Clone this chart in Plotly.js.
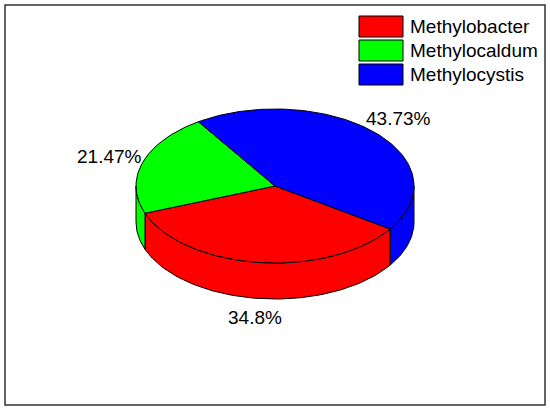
<!DOCTYPE html>
<html>
<head>
<meta charset="utf-8">
<script src="https://cdn.plot.ly/plotly-3.0.1.min.js"></script>
<style>html,body{margin:0;padding:0;background:#fff;}#chart{width:550px;height:411px;}</style>
</head>
<body>
<div id="chart"></div>
<script>
// ---- data ----
const categories = ['Methylobacter', 'Methylocaldum', 'Methylocystis'];
const values = [34.8, 21.47, 43.73];
const pctLabels = ['34.8%', '21.47%', '43.73%'];
const colors = ['#FF0000', '#00FF00', '#0000FF'];

// ---- geometry (pseudo-3D pie projection) ----
const W = 550, H = 411;
const cx = 275, cy = 186, rx = 139, ry = 77, depth = 36;
const startDeg = 34; // screen-clockwise from east
const FONT = 'Liberation Sans, Arial, sans-serif';

function pt(deg, dy) {
  const t = deg * Math.PI / 180;
  return [cx + rx * Math.cos(t), cy + ry * Math.sin(t) + (dy || 0)];
}
function arc(a, b, dy) {
  const n = Math.max(2, Math.ceil(Math.abs(b - a) / 1.5));
  const out = [];
  for (let i = 0; i <= n; i++) out.push(pt(a + (b - a) * i / n, dy));
  return out;
}

const total = values.reduce((s, v) => s + v, 0);
const slices = [];
let acc = startDeg;
values.forEach((v, i) => {
  const span = v / total * 360;
  slices.push({ a: acc, b: acc + span, i });
  acc += span;
});

const sideTraces = [], topTraces = [];
slices.forEach(s => {
  // visible front side: angles within [0,180] (mod 360)
  [[0, 180], [360, 540]].forEach(([lo, hi]) => {
    const a = Math.max(s.a, lo), b = Math.min(s.b, hi);
    if (b > a) {
      const pts = arc(a, b, 0).concat(arc(b, a, depth));
      pts.push(pts[0]);
      sideTraces.push({
        type: 'scatter', mode: 'lines', fill: 'toself',
        x: pts.map(p => p[0]), y: pts.map(p => p[1]),
        fillcolor: colors[s.i], line: { color: '#000', width: 1 },
        hoverinfo: 'skip', showlegend: false
      });
    }
  });
  const pts = [[cx, cy]].concat(arc(s.a, s.b, 0));
  pts.push([cx, cy]);
  topTraces.push({
    type: 'scatter', mode: 'lines', fill: 'toself',
    x: pts.map(p => p[0]), y: pts.map(p => p[1]),
    fillcolor: colors[s.i], line: { color: '#000', width: 1 },
    hoverinfo: 'skip', showlegend: false
  });
});

// percentage labels
const annotations = slices.map(s => {
  const m = (s.a + s.b) / 2 * Math.PI / 180;
  const sn = Math.sin(m);
  return {
    x: cx + 1.25 * rx * Math.cos(m),
    y: cy + 1.25 * ry * sn + (sn > 0 ? depth : 0),
    xref: 'x', yref: 'y', text: pctLabels[s.i], showarrow: false,
    xanchor: 'center', yanchor: 'middle',
    font: { family: FONT, size: 19, color: '#000' }
  };
});

// legend (custom swatches)
const shapes = [{
  type: 'rect', xref: 'x', yref: 'y', x0: 5, x1: 545, y0: 5, y1: 405,
  line: { color: '#333', width: 1.5 }, fillcolor: 'rgba(0,0,0,0)'
}];
const legX = 359, legW = 44, legTop = 16, legH = 21, legStep = 24;
categories.forEach((c, i) => {
  shapes.push({
    type: 'rect', xref: 'x', yref: 'y',
    x0: legX, x1: legX + legW, y0: legTop + i * legStep, y1: legTop + i * legStep + legH,
    fillcolor: colors[i], line: { color: '#000', width: 1 }
  });
  annotations.push({
    x: legX + legW + 5, y: legTop + i * legStep + legH / 2,
    xref: 'x', yref: 'y', text: c, showarrow: false,
    xanchor: 'left', yanchor: 'middle',
    font: { family: FONT, size: 19, color: '#000' }
  });
});

const layout = {
  width: W, height: H,
  margin: { l: 0, r: 0, t: 0, b: 0 },
  paper_bgcolor: '#fff', plot_bgcolor: '#fff',
  xaxis: { range: [0, W], visible: false, fixedrange: true },
  yaxis: { range: [H, 0], visible: false, fixedrange: true },
  showlegend: false,
  shapes: shapes,
  annotations: annotations
};

Plotly.newPlot('chart', sideTraces.concat(topTraces), layout, { staticPlot: true, displayModeBar: false });
</script>
</body>
</html>
